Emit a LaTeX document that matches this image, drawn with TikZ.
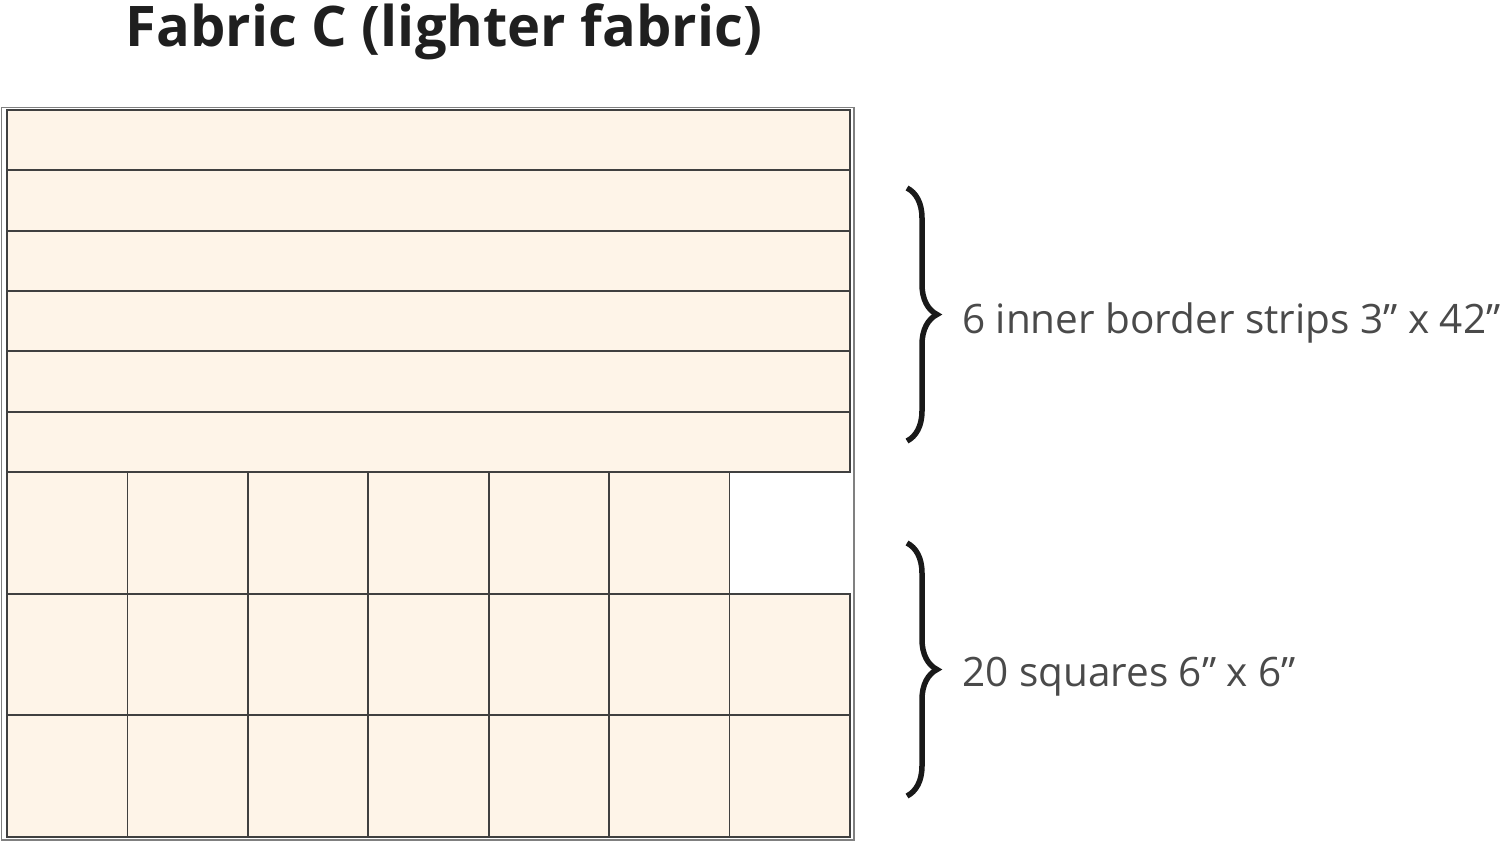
\documentclass[tikz,border=0pt]{standalone}
\usepackage{fontspec}
\setmainfont{Open Sans}
\usetikzlibrary{decorations.pathreplacing}

\definecolor{fabricC}{HTML}{FEF4E8}
\definecolor{seam}{HTML}{404040}
\definecolor{labelgray}{HTML}{4A4A4A}

\begin{document}
\begin{tikzpicture}[x=1pt,y=-1pt,
    piece/.style={fill=fabricC,draw=seam,line width=1.8pt},
    cutbrace/.style={decorate,decoration={brace,amplitude=30pt},draw=black!90,line width=5.5pt},
    cutlabel/.style={anchor=west,text=labelgray,font=\fontsize{40.5}{46}\selectfont,inner sep=0pt}]

  \useasboundingbox (0,0) rectangle (1500,841);

  % Title
  \node[font=\fontsize{56}{64}\selectfont\bfseries,text=black!88,inner sep=0pt] (title) at (444,32) {Fabric C (lighter fabric)};

  % Fabric outline
  \draw[draw=gray,line width=1.6pt] (1.5,107.5) rectangle (854,840);

  % Inner border strips
  \foreach \i in {0,...,5}
    \draw[piece] (7,{110+60.33*\i}) rectangle (850,{110+60.33*(\i+1)});

  % Squares (top row has only six)
  \foreach \r in {0,1,2}
    \foreach \c in {0,...,6} {
      \ifnum\r=0 \ifnum\c=6 \else
        \draw[piece] ({7+120.43*\c},{472+121.67*\r}) rectangle ({7+120.43*(\c+1)},{472+121.67*(\r+1)});
      \fi \else
        \draw[piece] ({7+120.43*\c},{472+121.67*\r}) rectangle ({7+120.43*(\c+1)},{472+121.67*(\r+1)});
      \fi
    }

  % Braces
  \coordinate (strips top) at (907,188);
  \coordinate (strips bottom) at (907,441);
  \coordinate (squares top) at (907,543);
  \coordinate (squares bottom) at (907,796);
  \draw[cutbrace] (strips top) -- (strips bottom);
  \draw[cutbrace] (squares top) -- (squares bottom);

  % Labels
  \node[cutlabel] (strips) at (962,323) {6 inner border strips 3” x 42”};
  \node[cutlabel] (squares) at (962,677) {20 squares 6” x 6”};

\end{tikzpicture}
\end{document}
